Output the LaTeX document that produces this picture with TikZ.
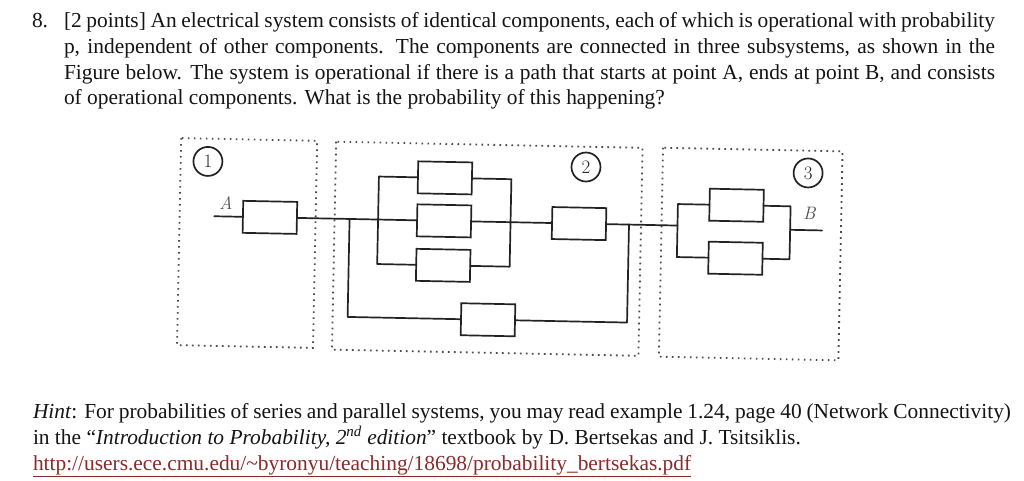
\documentclass[tikz,border=0pt]{standalone}
\usepackage{fontspec}
\newfontfamily\bodyfont{Liberation Serif}
\definecolor{wirecol}{HTML}{222222}
\definecolor{dotcol}{HTML}{4A4A4A}
\definecolor{linkcol}{HTML}{8A2A2A}
\definecolor{inkcol}{HTML}{141414}
\tikzset{
  part/.style={draw=wirecol,line width=1.7pt,fill=white,minimum width=54pt,minimum height=32pt,inner sep=0pt,outer sep=0pt,transform shape},
  wire/.style={draw=wirecol,line width=1.7pt,line cap=round,line join=round},
  zone/.style={draw=dotcol,line width=1.8pt,dash pattern=on 1.6pt off 4.4pt},
  tag/.style={draw=wirecol,line width=1.7pt,circle,minimum size=29pt,inner sep=0pt,font=\fontsize{19}{19}\selectfont,text=black!85},
  endlabel/.style={font=\fontsize{18}{18}\selectfont\itshape,text=black!70,inner sep=0pt},
  para/.style={anchor=base west,inner sep=0pt,outer sep=0pt,text=inkcol,font=\bodyfont\fontsize{21.4}{25}\selectfont},
}
\begin{document}
\begin{tikzpicture}[x=1pt,y=-1pt]
\useasboundingbox[fill=white] (0,0) rectangle (1024,481);
% text
\node[para] (num) at (32,28) {8.};
\node[para] (l1) at (64,28) {\makebox[931pt][s]{[2 points] An electrical system consists of identical components, each of which is operational with probability}};
\node[para] (l2) at (64,54) {\makebox[931pt][s]{p, independent of other components. The components are connected in three subsystems, as shown in the}};
\node[para] (l3) at (64,80) {\makebox[931pt][s]{Figure below. The system is operational if there is a path that starts at point A, ends at point B, and consists}};
\node[para] (l4) at (64,105) {of operational components. What is the probability of this happening?};
\node[para] (h1) at (33,418) {\makebox[978pt][s]{\textit{Hint}: For probabilities of series and parallel systems, you may read example 1.24, page 40 (Network Connectivity)}};
\node[para] (h2) at (33,444) {in the “\textit{Introduction to Probability, 2\textsuperscript{nd} edition}” textbook by D. Bertsekas and J. Tsitsiklis.};
\node[para,text=linkcol] (h3) at (33,470) {\underline{http://users.ece.cmu.edu/\textasciitilde byronyu/teaching/18698/probability\_bertsekas.pdf}};
\begin{scope}[rotate around={-1.15:(500,250)}]
% dotted zones
\draw[zone] (179,144.5) rectangle (315,351.6);
\draw[zone] (334,145) rectangle (640.5,353);
\draw[zone] (661,144.5) rectangle (840.5,353.5);
% junctions
\coordinate (startA) at (213.5,222);
\coordinate (j1) at (349,222);
\coordinate (j2) at (377.5,222);
\coordinate (j2t) at (377.5,179);
\coordinate (j2b) at (377.5,266.5);
\coordinate (j1b) at (349,320);
\coordinate (r2t) at (510,179);
\coordinate (r2m) at (510,222);
\coordinate (r2b) at (510,266.5);
\coordinate (j3) at (628.5,222);
\coordinate (j3b) at (628.5,320);
\coordinate (l3j) at (677,222);
\coordinate (l3t) at (677,200.5);
\coordinate (l3b) at (677,253.5);
\coordinate (r3t) at (789.7,200.5);
\coordinate (r3m) at (789.7,224);
\coordinate (r3b) at (789.7,253.5);
\coordinate (endB) at (821.6,224);
% components
\node[part] (c1) at (269.3,222) {};
\node[part] (c2a) at (443.5,179) {};
\node[part] (c2b) at (443.5,222) {};
\node[part] (c2c) at (443.5,266.5) {};
\node[part] (c2d) at (489.4,320) {};
\node[part] (c2e) at (578.5,222) {};
\node[part] (c3a) at (735.6,200.5) {};
\node[part] (c3b) at (735.6,253.5) {};
% wires
\draw[wire] (startA) -- (c1.west);
\draw[wire] (c1.east) -- (j1) -- (j2) -- (c2b.west);
\draw[wire] (j2t) -- (j2b);
\draw[wire] (c2a.west) -- (j2t);
\draw[wire] (c2c.west) -- (j2b);
\draw[wire] (j1) -- (j1b) -- (c2d.west);
\draw[wire] (c2a.east) -- (r2t) -- (r2b) -- (c2c.east);
\draw[wire] (c2b.east) -- (r2m) -- (c2e.west);
\draw[wire] (c2e.east) -- (j3) -- (l3j);
\draw[wire] (j3) -- (j3b) -- (c2d.east);
\draw[wire] (l3t) -- (l3b);
\draw[wire] (c3a.west) -- (l3t);
\draw[wire] (c3b.west) -- (l3b);
\draw[wire] (c3a.east) -- (r3t) -- (r3b) -- (c3b.east);
\draw[wire] (r3m) -- (endB);
% tags
\node[tag] (t1) at (206.2,167.3) {1};
\node[tag] (t2) at (584.3,165.3) {2};
\node[tag] (t3) at (806.5,166.8) {3};
\node[endlabel] (A) at (225,208.5) {A};
\node[endlabel] (B) at (808.4,207.5) {B};
\end{scope}
\end{tikzpicture}
\end{document}
